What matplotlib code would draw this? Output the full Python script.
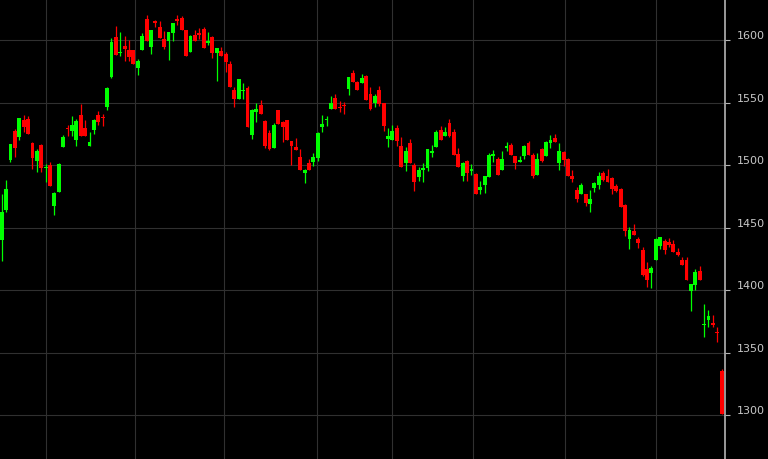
import numpy as np
import matplotlib
matplotlib.use("Agg")
import matplotlib.pyplot as plt

# ── daily OHLC (oldest first) ────────────────────────────────────────────────
OPEN = [
    1440.2, 1464.2, 1504.2, 1527.4, 1522.6, 1536.2, 1537.0, 1517.8, 1503.4, 1516.2,
    1497.8, 1500.2, 1467.4, 1478.6, 1514.6, 1529.8, 1527.4, 1520.2, 1540.2, 1529.8,
    1515.4, 1528.2, 1540.2, 1538.6, 1546.6, 1570.6, 1602.6, 1589.8, 1595.4, 1592.2,
    1592.2, 1577.8, 1592.2, 1617.0, 1594.6, 1615.4, 1610.6, 1601.0, 1599.4, 1605.8,
    1617.0, 1617.8, 1608.2, 1590.6, 1604.2, 1605.8, 1609.0, 1597.8, 1602.6, 1589.8,
    1591.4, 1589.0, 1581.0, 1560.2, 1553.0, 1559.4, 1561.8, 1524.2, 1542.6, 1548.2,
    1535.4, 1525.8, 1513.8, 1544.2, 1534.6, 1536.2, 1519.4, 1514.6, 1506.6, 1493.8,
    1501.8, 1502.6, 1505.8, 1530.6, 1536.2, 1545.0, 1553.8, 1546.6, 1548.2, 1561.0,
    1573.8, 1566.6, 1565.8, 1571.4, 1557.0, 1549.8, 1560.2, 1549.8, 1521.0, 1520.2,
    1529.8, 1515.4, 1501.8, 1517.8, 1500.2, 1490.6, 1496.2, 1497.8, 1509.8, 1514.6,
    1528.2, 1523.4, 1533.8, 1526.6, 1509.0, 1491.4, 1503.4, 1495.4, 1493.0, 1480.2,
    1484.2, 1490.6, 1507.4, 1505.0, 1496.2, 1513.8, 1516.2, 1507.4, 1502.6, 1507.4,
    1517.8, 1508.2, 1492.2, 1513.0, 1507.4, 1517.8, 1521.8, 1501.8, 1510.6, 1505.0,
    1491.4, 1480.2, 1477.0, 1477.0, 1469.0, 1481.8, 1484.2, 1493.8, 1491.4, 1489.8,
    1483.4, 1481.0, 1468.2, 1441.0, 1447.4, 1441.0, 1432.2, 1417.0, 1413.8, 1424.2,
    1435.4, 1439.4, 1438.6, 1437.0, 1430.6, 1424.2, 1424.2, 1399.4, 1404.2, 1415.4,
    1372.2, 1376.2, 1373.8, 1366.6, 1335.4,
]
HIGH = [
    1477.0, 1488.2, 1517.0, 1529.0, 1537.8, 1540.2, 1539.4, 1518.6, 1513.0, 1517.0,
    1501.0, 1502.6, 1478.6, 1501.8, 1524.2, 1532.2, 1539.4, 1537.0, 1549.0, 1536.2,
    1526.6, 1537.0, 1543.4, 1541.0, 1562.6, 1601.8, 1611.4, 1606.6, 1603.4, 1600.2,
    1592.2, 1585.0, 1605.8, 1620.2, 1608.2, 1616.2, 1615.4, 1607.4, 1606.6, 1613.8,
    1620.2, 1619.4, 1608.2, 1604.2, 1608.2, 1609.8, 1610.6, 1606.6, 1603.4, 1593.8,
    1594.6, 1590.6, 1583.4, 1562.6, 1569.0, 1565.8, 1563.4, 1545.0, 1549.8, 1552.2,
    1536.2, 1528.2, 1533.8, 1544.2, 1535.4, 1536.2, 1519.4, 1521.8, 1513.0, 1497.0,
    1505.0, 1509.8, 1526.6, 1540.2, 1539.4, 1555.4, 1557.0, 1551.4, 1550.6, 1570.6,
    1576.2, 1567.4, 1573.0, 1572.2, 1562.6, 1557.0, 1563.4, 1549.8, 1529.8, 1532.2,
    1532.2, 1522.6, 1514.6, 1521.0, 1501.8, 1498.6, 1501.8, 1513.0, 1516.2, 1528.2,
    1531.4, 1530.6, 1537.0, 1529.0, 1513.8, 1502.6, 1504.2, 1501.0, 1493.8, 1487.4,
    1491.4, 1509.8, 1512.2, 1506.6, 1511.4, 1518.6, 1517.8, 1507.4, 1507.4, 1516.2,
    1519.4, 1509.8, 1509.8, 1513.8, 1519.4, 1524.2, 1525.0, 1517.8, 1511.4, 1505.8,
    1496.2, 1482.6, 1485.8, 1477.0, 1480.2, 1486.6, 1494.6, 1495.4, 1497.0, 1490.6,
    1485.0, 1481.8, 1469.0, 1450.6, 1453.0, 1442.6, 1434.6, 1422.6, 1419.4, 1441.8,
    1442.6, 1441.0, 1441.8, 1440.2, 1433.8, 1426.6, 1426.6, 1405.0, 1417.0, 1419.4,
    1389.0, 1384.2, 1380.2, 1370.6, 1337.0,
]
LOW = [
    1423.4, 1462.6, 1502.6, 1506.6, 1520.2, 1526.6, 1525.0, 1497.0, 1494.6, 1494.6,
    1486.6, 1483.4, 1460.2, 1478.6, 1514.6, 1523.4, 1523.4, 1515.4, 1523.4, 1523.4,
    1515.4, 1525.0, 1532.2, 1531.4, 1544.2, 1569.8, 1588.2, 1587.4, 1583.4, 1583.4,
    1581.0, 1572.2, 1592.2, 1599.4, 1589.0, 1610.6, 1601.8, 1593.0, 1584.2, 1599.4,
    1612.2, 1608.2, 1587.4, 1590.6, 1599.4, 1601.0, 1593.8, 1596.2, 1585.8, 1567.4,
    1587.4, 1574.6, 1562.6, 1546.6, 1553.0, 1553.0, 1530.6, 1521.0, 1534.6, 1541.0,
    1513.8, 1512.2, 1513.8, 1533.0, 1518.6, 1520.2, 1500.2, 1512.2, 1496.2, 1485.8,
    1496.2, 1499.4, 1503.4, 1526.6, 1531.4, 1545.0, 1545.0, 1542.6, 1541.0, 1556.2,
    1566.6, 1560.2, 1565.8, 1552.2, 1544.2, 1546.6, 1547.4, 1527.4, 1514.6, 1520.2,
    1515.4, 1498.6, 1495.4, 1501.8, 1479.4, 1487.4, 1486.6, 1495.4, 1506.6, 1514.6,
    1520.2, 1523.4, 1522.6, 1508.2, 1498.6, 1487.4, 1487.4, 1492.2, 1477.0, 1477.0,
    1477.8, 1490.6, 1502.6, 1492.2, 1496.2, 1511.4, 1508.2, 1497.0, 1502.6, 1505.0,
    1508.2, 1489.8, 1492.2, 1502.6, 1507.4, 1513.8, 1518.6, 1496.2, 1499.4, 1491.4,
    1486.6, 1470.6, 1477.0, 1467.4, 1462.6, 1478.6, 1481.0, 1487.4, 1486.6, 1477.0,
    1478.6, 1466.6, 1443.4, 1433.0, 1444.2, 1433.8, 1411.4, 1402.6, 1401.8, 1424.2,
    1433.0, 1429.0, 1434.6, 1430.6, 1427.4, 1420.2, 1408.2, 1383.4, 1400.2, 1408.2,
    1362.6, 1370.6, 1370.6, 1358.6, 1301.0,
]
CLOSE = [
    1462.6, 1481.0, 1517.0, 1513.8, 1537.8, 1530.6, 1525.0, 1505.8, 1511.4, 1497.8,
    1498.6, 1483.4, 1477.8, 1501.0, 1522.6, 1529.0, 1532.2, 1535.4, 1523.4, 1523.4,
    1518.6, 1536.2, 1534.6, 1537.8, 1561.8, 1598.6, 1588.2, 1590.6, 1593.0, 1586.6,
    1581.0, 1583.4, 1603.4, 1599.4, 1608.2, 1613.8, 1601.8, 1594.6, 1606.6, 1613.8,
    1615.4, 1608.2, 1587.4, 1603.4, 1599.4, 1604.2, 1593.8, 1599.4, 1589.8, 1593.8,
    1587.4, 1582.6, 1562.6, 1553.0, 1569.0, 1560.2, 1530.6, 1544.2, 1545.0, 1541.0,
    1515.4, 1513.0, 1532.2, 1533.0, 1530.6, 1520.2, 1515.4, 1512.2, 1496.2, 1496.2,
    1496.2, 1506.6, 1525.8, 1533.0, 1537.0, 1549.8, 1545.0, 1545.8, 1547.4, 1570.6,
    1566.6, 1560.2, 1569.8, 1552.2, 1545.0, 1555.4, 1549.0, 1531.4, 1523.4, 1527.4,
    1519.4, 1498.6, 1511.4, 1501.8, 1486.6, 1496.2, 1497.8, 1513.0, 1511.4, 1526.6,
    1520.2, 1526.6, 1523.4, 1508.2, 1498.6, 1501.8, 1493.8, 1497.0, 1477.0, 1482.6,
    1491.4, 1508.2, 1509.0, 1492.2, 1505.0, 1515.4, 1508.2, 1501.8, 1504.2, 1515.4,
    1508.2, 1491.4, 1505.0, 1503.4, 1518.6, 1520.2, 1518.6, 1511.4, 1504.2, 1491.4,
    1489.0, 1473.0, 1484.2, 1469.8, 1473.0, 1485.8, 1491.4, 1488.2, 1486.6, 1481.0,
    1479.4, 1466.6, 1447.4, 1448.2, 1444.2, 1437.8, 1412.2, 1408.2, 1417.8, 1441.0,
    1442.6, 1432.2, 1436.2, 1430.6, 1428.2, 1420.2, 1408.2, 1405.0, 1414.6, 1408.2,
    1373.0, 1379.4, 1372.2, 1365.8, 1301.0,
]

PRICE_TICKS = [1300, 1350, 1400, 1450, 1500, 1550, 1600]
# vertical grid lines (candle-index units)
PERIOD_LINES = [10.15, 30.45, 50.55, 71.9, 88.95, 107.4, 128.4, 149.1]

UP_COLOR   = "#00ff00"
DOWN_COLOR = "#ff0000"
GRID_COLOR = "#303030"
AXIS_COLOR = "#b4b4b4"
TEXT_COLOR = "#c8c8c8"

o = np.array(OPEN)
h = np.array(HIGH)
l = np.array(LOW)
c = np.array(CLOSE)
x = np.arange(len(o))
colors = np.where(c > o, UP_COLOR, DOWN_COLOR)

# body: at least one price unit tall so dojis still show as a dash
body_lo = np.minimum(o, c)
body_h = np.abs(c - o)
thin = body_h < 1.0
body_lo = np.where(thin, (o + c) / 2 - 0.5, body_lo)
body_h = np.where(thin, 1.0, body_h)

fig = plt.figure(figsize=(7.68, 4.60), dpi=100, facecolor="black")
ax = fig.add_axes([0, 0, 725 / 768, 1])
ax.set_facecolor("black")

ax.vlines(x, l, h, colors=colors, linewidth=0.9, zorder=2)
ax.bar(x, body_h, bottom=body_lo, width=0.88, color=colors, linewidth=0, zorder=3)

ax.set_xlim(-0.39, 164.76)
ax.set_ylim(1265.0, 1633.0)

ax.set_xticks(PERIOD_LINES)
ax.set_yticks(PRICE_TICKS)
ax.yaxis.tick_right()
ax.tick_params(axis="x", length=0, labelbottom=False)
ax.tick_params(axis="y", length=3.5, width=0.8, color=AXIS_COLOR,
               labelcolor=TEXT_COLOR, labelsize=8, pad=5)
for lab in ax.get_yticklabels():
    lab.set_verticalalignment("bottom")

ax.set_axisbelow(True)
ax.grid(True, color=GRID_COLOR, linewidth=0.8)

for side in ("top", "left", "bottom"):
    ax.spines[side].set_visible(False)
ax.spines["right"].set_color(AXIS_COLOR)
ax.spines["right"].set_linewidth(1.2)

fig.savefig("out.png", dpi=100, facecolor="black")
